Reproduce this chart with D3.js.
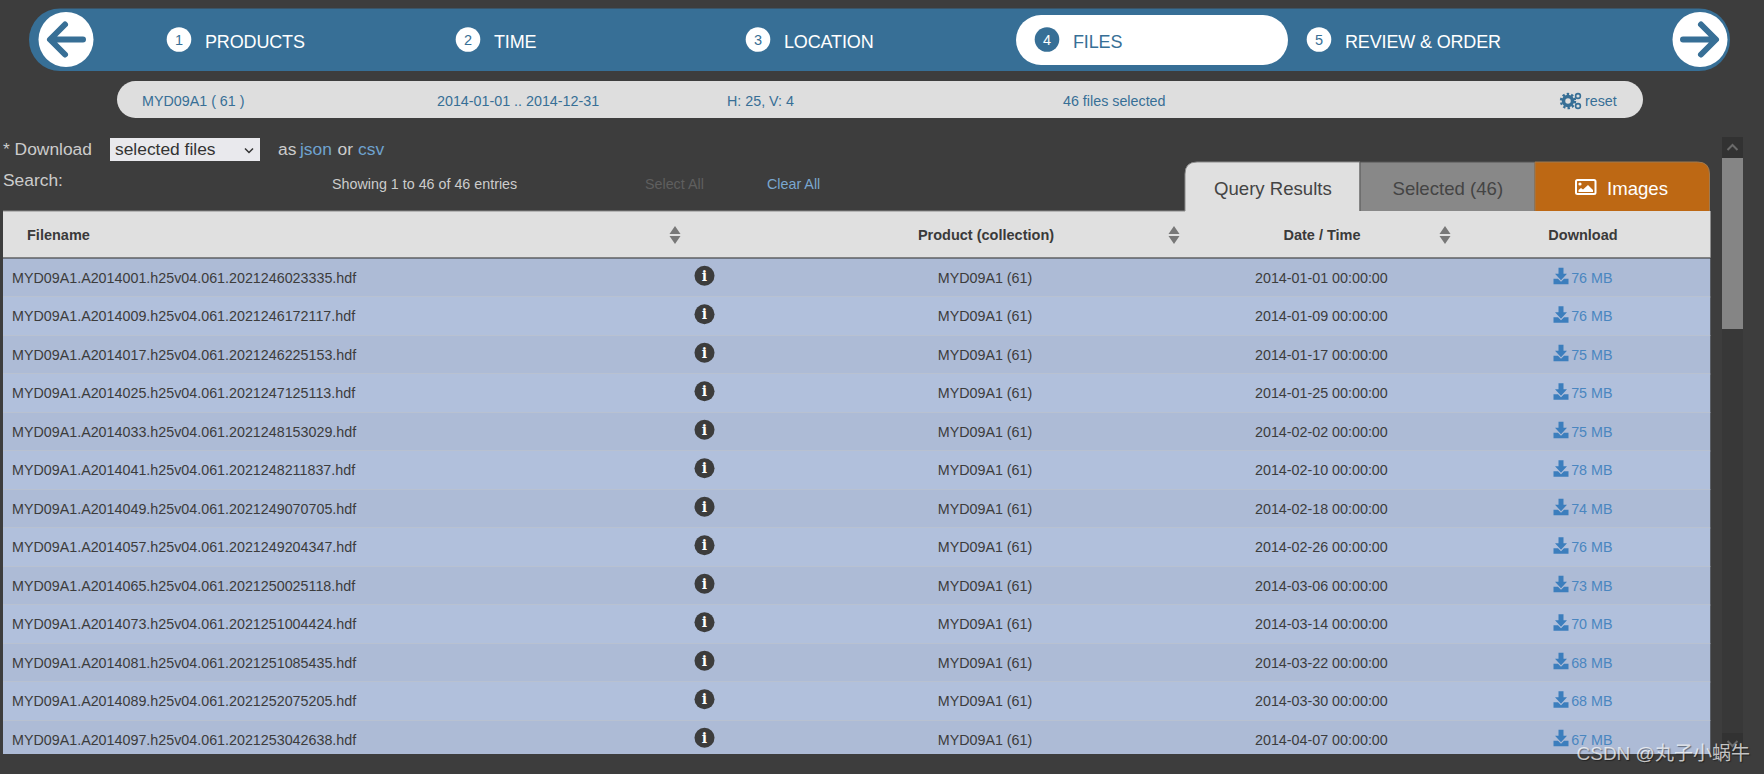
<!DOCTYPE html>
<html>
<head>
<meta charset="utf-8">
<script src="https://cdn.jsdelivr.net/npm/d3@7"></script>
<style>
  html, body { margin: 0; padding: 0; background: #3d3d3d; overflow: hidden; }
  svg { display: block; font-family: "Liberation Sans", Arial, sans-serif; }
</style>
</head>
<body>
<svg width="1764" height="774"></svg>
<script>
const stepLabels = ["PRODUCTS", "TIME", "LOCATION", "FILES", "REVIEW & ORDER"];
const stepCenters = [179, 468, 758, 1047, 1319];
const activeStep = 3;

const summaryTexts = ["MYD09A1 ( 61 )", "2014-01-01 .. 2014-12-31", "H: 25, V: 4", "46 files selected"];
const summaryX = [142, 437, 727, 1063];

const headers = ["Filename", "Product (collection)", "Date / Time", "Download"];
const headerX = [27, 986, 1322, 1583];
const sortX = [675, 1174, 1445];

const fileNames = [
  "MYD09A1.A2014001.h25v04.061.2021246023335.hdf",
  "MYD09A1.A2014009.h25v04.061.2021246172117.hdf",
  "MYD09A1.A2014017.h25v04.061.2021246225153.hdf",
  "MYD09A1.A2014025.h25v04.061.2021247125113.hdf",
  "MYD09A1.A2014033.h25v04.061.2021248153029.hdf",
  "MYD09A1.A2014041.h25v04.061.2021248211837.hdf",
  "MYD09A1.A2014049.h25v04.061.2021249070705.hdf",
  "MYD09A1.A2014057.h25v04.061.2021249204347.hdf",
  "MYD09A1.A2014065.h25v04.061.2021250025118.hdf",
  "MYD09A1.A2014073.h25v04.061.2021251004424.hdf",
  "MYD09A1.A2014081.h25v04.061.2021251085435.hdf",
  "MYD09A1.A2014089.h25v04.061.2021252075205.hdf",
  "MYD09A1.A2014097.h25v04.061.2021253042638.hdf"
];
const fileDates = [
  "2014-01-01", "2014-01-09", "2014-01-17", "2014-01-25", "2014-02-02", "2014-02-10", "2014-02-18",
  "2014-02-26", "2014-03-06", "2014-03-14", "2014-03-22", "2014-03-30", "2014-04-07"
];
const fileSizes = [76, 76, 75, 75, 75, 78, 74, 76, 73, 70, 68, 68, 67];
const productName = "MYD09A1 (61)";

const svg = d3.select("svg");
const blue = "#376f96";
const rowH = 38.5;

const y = d3.scaleBand().domain(d3.range(fileNames.length))
  .range([258.5, 258.5 + rowH * fileNames.length]);

function txt(parent, x, yy, s, size, fill) {
  return parent.append("text").attr("x", x).attr("y", yy)
    .attr("font-size", size).attr("fill", fill).text(s);
}

// top nav
svg.append("rect").attr("x", 29).attr("y", 8.5).attr("width", 1701).attr("height", 62.5)
  .attr("rx", 31).attr("fill", blue);
svg.append("rect").attr("x", 1016).attr("y", 15).attr("width", 272).attr("height", 50)
  .attr("rx", 25).attr("fill", "#fff");

const steps = svg.append("g").selectAll("g").data(stepLabels).join("g")
  .attr("transform", (d, i) => `translate(${stepCenters[i]},39.5)`);
steps.append("circle").attr("r", 12.3)
  .attr("fill", (d, i) => i === activeStep ? blue : "#fff");
steps.append("text").attr("text-anchor", "middle").attr("y", 5.5).attr("font-size", 14.5)
  .attr("fill", (d, i) => i === activeStep ? "#fff" : blue)
  .text((d, i) => i + 1);
steps.append("text").attr("x", 26).attr("y", 8).attr("font-size", 18).attr("letter-spacing", -0.15)
  .attr("fill", (d, i) => i === activeStep ? blue : "#fff")
  .text(d => d);

const arrows = [{ cx: 66, dir: -1 }, { cx: 1700, dir: 1 }];
const arrowG = svg.append("g").selectAll("g").data(arrows).join("g")
  .attr("transform", d => `translate(${d.cx},39.5) scale(${d.dir},1)`);
arrowG.append("circle").attr("r", 27.5).attr("fill", "#fff");
arrowG.append("path").attr("d", "M-17,0H15M1,-15L16,0L1,15")
  .attr("fill", "none").attr("stroke", blue).attr("stroke-width", 6)
  .attr("stroke-linecap", "round").attr("stroke-linejoin", "round");

// summary bar
svg.append("rect").attr("x", 117).attr("y", 81).attr("width", 1526).attr("height", 37)
  .attr("rx", 18.5).attr("fill", "#dedede");
svg.append("g").selectAll("text").data(summaryTexts).join("text")
  .attr("x", (d, i) => summaryX[i]).attr("y", 106).attr("font-size", 14.3).attr("fill", blue)
  .text(d => d);
txt(svg, 1585, 106, "reset", 14.3, blue);
const gear = svg.append("g").attr("fill", blue);
gear.append("circle").attr("cx", 1568).attr("cy", 101).attr("r", 4.5)
  .attr("fill", "none").attr("stroke", blue).attr("stroke-width", 3.5);
gear.append("circle").attr("cx", 1568).attr("cy", 101).attr("r", 7).attr("fill", "none")
  .attr("stroke", blue).attr("stroke-width", 2.4).attr("stroke-dasharray", "2.4 2.1");
[[1578, 96], [1578, 106]].forEach(c => gear.append("circle").attr("cx", c[0]).attr("cy", c[1]).attr("r", 2.4)
  .attr("fill", "none").attr("stroke", blue).attr("stroke-width", 1.6));

// download row
txt(svg, 3, 155, "* Download", 17.4, "#ccc");
svg.append("rect").attr("x", 110).attr("y", 138).attr("width", 150).attr("height", 23).attr("fill", "#e9e9ed");
txt(svg, 115, 155, "selected files", 17.4, "#333");
svg.append("path").attr("d", "M245,148.5L249,152.5L253,148.5").attr("fill", "none")
  .attr("stroke", "#333").attr("stroke-width", 1.5);
txt(svg, 278, 155, "as", 17.4, "#ccc");
txt(svg, 300, 155, "json", 17.4, "#6fa3d0");
txt(svg, 337.5, 155, "or", 17.4, "#ccc");
txt(svg, 358, 155, "csv", 17.4, "#6fa3d0");
txt(svg, 3, 186, "Search:", 17.4, "#ccc");
txt(svg, 332, 189, "Showing 1 to 46 of 46 entries", 14.3, "#ccc");
txt(svg, 645, 189, "Select All", 14.3, "#5f5f5f");
txt(svg, 767, 189, "Clear All", 14.3, "#7aa7d0");

// tabs
const tabX = [1185, 1360, 1535, 1709.5];
const tabPath = (x0, x1, rl, rr) =>
  `M${x0},212V${162 + rl}Q${x0},162 ${x0 + rl},162H${x1 - rr}Q${x1},162 ${x1},${162 + rr}V212Z`;
svg.append("path").attr("d", tabPath(tabX[0], tabX[1], 12, 0)).attr("fill", "#e0e0e0").attr("stroke", "#8a8a8a");
svg.append("path").attr("d", tabPath(tabX[1], tabX[2], 0, 0)).attr("fill", "#888").attr("stroke", "#555");
svg.append("path").attr("d", tabPath(tabX[2], tabX[3], 0, 12)).attr("fill", "#bd6814").attr("stroke", "#a07a50");
txt(svg, 1214, 195, "Query Results", 18.6, "#444");
txt(svg, 1392.5, 195, "Selected (46)", 18.6, "#444");
txt(svg, 1607, 195, "Images", 18.6, "#fff");
const img = svg.append("g");
img.append("rect").attr("x", 1576).attr("y", 180).attr("width", 19.5).attr("height", 14)
  .attr("rx", 1.5).attr("fill", "none").attr("stroke", "#fff").attr("stroke-width", 2);
img.append("circle").attr("cx", 1580).attr("cy", 184).attr("r", 1.6).attr("fill", "#fff");
img.append("path").attr("d", "M1578.5,192V190L1581,188L1583,189.5L1588,185L1593,190V192Z").attr("fill", "#fff");

// table header
svg.append("rect").attr("x", 3).attr("y", 211).attr("width", 1707.5).attr("height", 47).attr("fill", "#e0e0e0");
svg.append("line").attr("x1", 3).attr("x2", 1185).attr("y1", 211).attr("y2", 211).attr("stroke", "#8a8a8a");
svg.append("line").attr("x1", 3).attr("x2", 1710.5).attr("y1", 258).attr("y2", 258).attr("stroke", "#222").attr("stroke-width", 1.2);
svg.append("g").selectAll("text").data(headers).join("text")
  .attr("x", (d, i) => headerX[i]).attr("y", 240).attr("font-size", 14.5).attr("font-weight", "bold")
  .attr("fill", "#3a3a3a").attr("text-anchor", (d, i) => i === 0 ? "start" : "middle")
  .text(d => d);
svg.append("g").selectAll("path").data(sortX).join("path")
  .attr("transform", d => `translate(${d},235)`)
  .attr("d", "M-5.5,-1L0,-9L5.5,-1ZM-5.5,1L0,9L5.5,1Z").attr("fill", "#777");

// table body, cut at the bottom of the scroll box
svg.append("clipPath").attr("id", "tableClip").append("rect")
  .attr("x", 3).attr("y", 258).attr("width", 1707.5).attr("height", 496);
const rows = svg.append("g").attr("clip-path", "url(#tableClip)")
  .selectAll("g").data(fileNames).join("g")
  .attr("transform", (d, i) => `translate(0,${y(i)})`);
rows.append("rect").attr("x", 3).attr("width", 1707.5).attr("height", y.bandwidth())
  .attr("fill", (d, i) => i % 2 ? "#b1c0dc" : "#adbbd6");
rows.append("line").attr("x1", 3).attr("x2", 1710.5).attr("y1", y.bandwidth()).attr("y2", y.bandwidth())
  .attr("stroke", "#c3c7cd");
const mid = y.bandwidth() / 2 + 5;
rows.append("text").attr("x", 12).attr("y", mid).attr("font-size", 14.3).attr("fill", "#3c3c3c").text(d => d);
rows.append("circle").attr("cx", 704.5).attr("cy", mid - 7).attr("r", 10).attr("fill", "#3c3c3c");
rows.append("text").attr("x", 704.5).attr("y", mid - 2).attr("text-anchor", "middle")
  .attr("font-size", 14).attr("font-weight", "bold").attr("font-family", "'DejaVu Serif', serif")
  .attr("fill", "#fff").text("i");
rows.append("text").attr("x", 985).attr("y", mid).attr("text-anchor", "middle")
  .attr("font-size", 14.3).attr("fill", "#3c3c3c").text(productName);
rows.append("text").attr("x", 1255).attr("y", mid).attr("font-size", 14.3).attr("fill", "#3c3c3c")
  .text((d, i) => `${fileDates[i]} 00:00:00`);
rows.append("text").attr("x", 1612.5).attr("y", mid).attr("text-anchor", "end")
  .attr("font-size", 14.3).attr("fill", "#4a86c0").text((d, i) => `${fileSizes[i]} MB`);
rows.append("path").attr("transform", `translate(1561,${mid - 5})`)
  .attr("d", "M-2.5,-10H2.5V-4H6L0,2.5L-6,-4H-2.5ZM-7.5,1H-3L0,4L3,1H7.5V6.5H-7.5Z")
  .attr("fill", "#3c7ebd");

// scrollbar
svg.append("rect").attr("x", 1722).attr("y", 137).attr("width", 21).attr("height", 617).attr("fill", "#383838");
svg.append("rect").attr("x", 1722).attr("y", 137).attr("width", 21).attr("height", 21).attr("fill", "#323232");
svg.append("rect").attr("x", 1722).attr("y", 158).attr("width", 21).attr("height", 171).attr("fill", "#858585");
svg.append("rect").attr("x", 1722).attr("y", 733).attr("width", 21).attr("height", 21).attr("fill", "#323232");
svg.append("path").attr("d", "M1727.5,150L1732.5,145L1737.5,150").attr("fill", "none").attr("stroke", "#6a6a6a").attr("stroke-width", 2);
svg.append("path").attr("d", "M1727.5,741L1732.5,746L1737.5,741").attr("fill", "none").attr("stroke", "#6a6a6a").attr("stroke-width", 2);

// watermark
svg.append("text").attr("x", 1576.5).attr("y", 760).attr("font-size", 19)
  .attr("font-family", "'Liberation Sans','Noto Sans CJK SC',sans-serif")
  .attr("fill", "rgba(255,255,255,0.72)")
  .attr("style", "text-shadow:1px 1px 1px rgba(0,0,0,.6)")
  .text("CSDN @丸子小蜗牛");
</script>
</body>
</html>
